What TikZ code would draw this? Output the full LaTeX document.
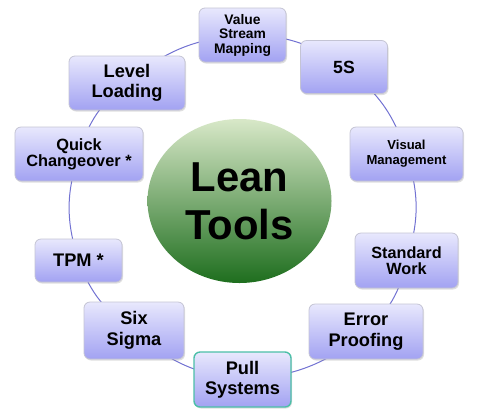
\documentclass[tikz,border=0pt]{standalone}
\usepackage{fontspec}
\setmainfont{Liberation Sans}
\usetikzlibrary{shadows,backgrounds,shapes.geometric}
\definecolor{boxtop}{HTML}{E8E8FD}
\definecolor{boxbot}{HTML}{A2A2F2}
\definecolor{boxline}{HTML}{C4C4D4}
\definecolor{conn}{HTML}{7272D2}
\definecolor{tealline}{HTML}{4CBFA8}
\definecolor{gtop}{HTML}{D8E8C8}
\definecolor{gmid}{HTML}{98BC78}
\definecolor{gbot}{HTML}{1E6E1E}
\begin{document}
\begin{tikzpicture}[x=1bp,y=-1bp,
  tool/.style={draw=boxline, line width=0.8bp, rounded corners=6bp,
    top color=boxtop, bottom color=boxbot, align=center, inner sep=0pt,
    font=\bfseries\fontsize{18.3}{20.5}\selectfont,
    drop shadow={shadow xshift=1bp, shadow yshift=-1.5bp, opacity=0.25}},
  link/.style={draw=conn, line width=1bp}]
\useasboundingbox (0,0) rectangle (480,419);

\node[ellipse, minimum width=184bp, minimum height=164bp, inner sep=0pt,
  top color=gtop, middle color=gmid, bottom color=gbot,
  font=\bfseries\fontsize{42}{48}\selectfont, align=center] (lean) at (239.5,201) {Lean\\Tools};

\node[tool, minimum width=87bp, minimum height=54bp, font=\bfseries\fontsize{13.9}{14.5}\selectfont] (vsm) at (242.5,35) {Value\\Stream\\Mapping};
\node[tool, minimum width=87bp, minimum height=53bp, font=\bfseries\fontsize{17.7}{20}\selectfont] (fives) at (344,67) {5S};
\node[tool, minimum width=113bp, minimum height=54bp, font=\bfseries\fontsize{13.1}{15}\selectfont] (vm) at (406.5,154) {Visual\\Management};
\node[tool, minimum width=103bp, minimum height=55bp, font=\bfseries\fontsize{16.3}{16.5}\selectfont] (sw) at (406.5,260.5) {Standard\\Work};
\node[tool, minimum width=114bp, minimum height=55bp] (ep) at (366,331.5) {Error\\Proofing};
\node[tool, draw=tealline, line width=1.4bp, minimum width=97bp, minimum height=55bp] (pull) at (242.5,379.5) {Pull\\Systems};
\node[tool, minimum width=100bp, minimum height=57bp] (six) at (134,330.5) {Six\\Sigma};
\node[tool, minimum width=87bp, minimum height=43bp] (tpm) at (78.5,260.5) {TPM *};
\node[tool, minimum width=128bp, minimum height=54bp, font=\bfseries\fontsize{16.4}{16}\selectfont] (qc) at (79,154) {Quick\\Changeover *};
\node[tool, minimum width=116bp, minimum height=54bp] (ll) at (127,83) {Level\\Loading};

\begin{scope}[on background layer]
\draw[link] (vsm.center) to[bend left=18] (fives.center);
\draw[link] (fives.center) to[bend left=18] (vm.center);
\draw[link] (vm.center) to[bend left=18] (sw.center);
\draw[link] (sw.center) to[bend left=18] (ep.center);
\draw[link] (ep.center) to[bend left=18] (pull.center);
\draw[link] (pull.center) to[bend left=18] (six.center);
\draw[link] (six.center) to[bend left=18] (tpm.center);
\draw[link] (tpm.center) to[bend left=18] (qc.center);
\draw[link] (qc.center) to[bend left=18] (ll.center);
\draw[link] (ll.center) to[bend left=18] (vsm.center);
\end{scope}
\end{tikzpicture}
\end{document}
